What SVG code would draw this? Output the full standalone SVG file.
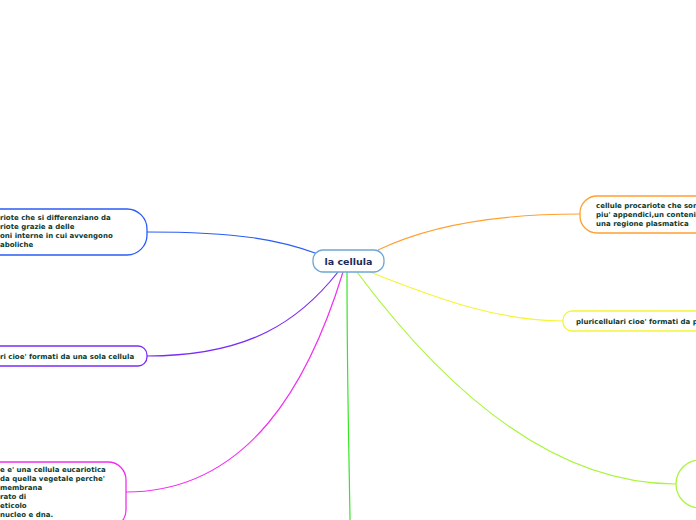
<svg xmlns="http://www.w3.org/2000/svg" width="696" height="520" viewBox="0 0 696 520">
<style>
.t{font-family:"DejaVu Sans",sans-serif;font-weight:bold;font-size:7px;fill:#0d3b2e}
.c{fill:none;stroke-width:1.2}
.b{fill:#fff;stroke-width:1.3}
</style>
<rect width="696" height="520" fill="#fff"/>
<g id="connectors">
<path class="c" stroke="#2a5cf5" d="M147,232 C240,232 280,240 318,254"/>
<path class="c" stroke="#7a2cf5" d="M147,356 C250,356 300,320 338,272"/>
<path class="c" stroke="#f030f0" d="M126,492 C250,492 310,380 343,272"/>
<path class="c" stroke="#ffa030" d="M378,250 C440,220 520,214 580,214"/>
<path class="c" stroke="#f5f535" d="M370,272 C440,300 500,321 563,321"/>
<path class="c" stroke="#a8f53a" d="M357,272 C430,370 540,484 676,484"/>
<path class="c" stroke="#35e625" d="M347,272 C347,380 349,450 350,520"/>
</g>
<g id="center">
<rect class="b" x="313" y="250" width="71" height="22" rx="10" stroke="#6ea6d8"/>
<text x="348.5" y="265" text-anchor="middle" style="font-family:'DejaVu Sans',sans-serif;font-weight:bold;font-size:9.5px;fill:#1a2a5a">la cellula</text>
</g>
<g id="n-blue">
<rect class="b" x="-40" y="209" width="187" height="46" rx="20" stroke="#2a5cf5"/>
<text class="t" x="0" y="220">riote che si differenziano da</text>
<text class="t" x="0" y="229">riote grazie a delle</text>
<text class="t" x="0" y="238">oni interne in cui avvengono</text>
<text class="t" x="0" y="247">aboliche</text>
</g>
<g id="n-purple">
<rect class="b" x="-40" y="346" width="187" height="20" rx="9" stroke="#7a2cf5"/>
<text class="t" x="0" y="359">ri cioe' formati da una sola cellula</text>
</g>
<g id="n-magenta">
<rect class="b" x="-40" y="462" width="166" height="66" rx="18" stroke="#f030f0"/>
<text class="t" x="0" y="472">e e' una cellula eucariotica</text>
<text class="t" x="0" y="481">da quella vegetale perche'</text>
<text class="t" x="0" y="490"> membrana</text>
<text class="t" x="0" y="499">rato di</text>
<text class="t" x="0" y="508">eticolo</text>
<text class="t" x="0" y="517">nucleo e dna.</text>
</g>
<g id="n-orange">
<rect class="b" x="580" y="196" width="140" height="37" rx="17" stroke="#ffa030"/>
<text class="t" x="596" y="208">cellule procariote che sono</text>
<text class="t" x="596" y="217">piu' appendici,un contenit</text>
<text class="t" x="596" y="226">una regione plasmatica</text>
</g>
<g id="n-yellow">
<rect class="b" x="563" y="311" width="150" height="20" rx="9" stroke="#f5f535"/>
<text class="t" x="576" y="324">pluricellulari cioe' formati da p</text>
</g>
<g id="n-lime">
<circle class="b" cx="700" cy="484" r="24" stroke="#a8f53a"/>
</g>
</svg>
